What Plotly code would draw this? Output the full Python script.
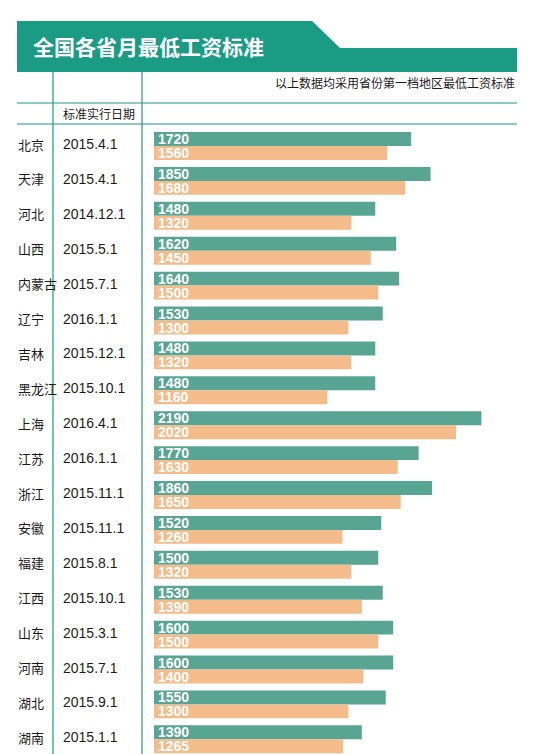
import plotly.graph_objects as go

provinces = ["北京", "天津", "河北", "山西", "内蒙古", "辽宁", "吉林", "黑龙江", "上海",
             "江苏", "浙江", "安徽", "福建", "江西", "山东", "河南", "湖北", "湖南"]
dates = ["2015.4.1", "2015.4.1", "2014.12.1", "2015.5.1", "2015.7.1", "2016.1.1", "2015.12.1",
         "2015.10.1", "2016.4.1", "2016.1.1", "2015.11.1", "2015.11.1", "2015.8.1", "2015.10.1",
         "2015.3.1", "2015.7.1", "2015.9.1", "2015.1.1"]
current_wage = [1720, 1850, 1480, 1620, 1640, 1530, 1480, 1480, 2190,
                1770, 1860, 1520, 1500, 1530, 1600, 1600, 1550, 1390]
previous_wage = [1560, 1680, 1320, 1450, 1500, 1300, 1320, 1160, 2020,
                 1630, 1650, 1260, 1320, 1390, 1500, 1400, 1300, 1265]

title_text = "全国各省月最低工资标准"
subtitle_text = "以上数据均采用省份第一档地区最低工资标准"
date_header = "标准实行日期"

W, H = 545, 754
HEADER_GREEN = "#1A9B83"
LINE_GREEN = "#1E9A80"
BAR_GREEN = "#58A594"
BAR_ORANGE = "#F4BC8A"
DARK = "#1E1A1B"
NUM_FONT = "Liberation Sans, Arial, Noto Sans CJK SC"
CJK_FONT = "Noto Sans CJK SC, Liberation Sans"


def px(x):
    return x / W


def py(y):
    return 1 - y / H


fig = go.Figure()
common = dict(orientation="h", hoverinfo="skip")
fig.add_trace(go.Bar(y=provinces, x=current_wage, marker=dict(color=BAR_GREEN, line_width=0), **common))
fig.add_trace(go.Bar(y=provinces, x=previous_wage, marker=dict(color=BAR_ORANGE, line_width=0), **common))

# pixel geometry
x0_px, x1_px = 154, 517
scale = 0.1495
pitch = 34.9
first_center = 146
top_px, bot_px = 124, 754
y_top_val = (top_px - first_center) / pitch
y_bot_val = (bot_px - first_center) / pitch

fig.update_layout(
    width=W, height=H, margin=dict(l=0, r=0, t=0, b=0),
    paper_bgcolor="white", plot_bgcolor="white",
    barmode="group", bargap=0.2, bargroupgap=0, showlegend=False,
    xaxis=dict(domain=[px(x0_px), px(x1_px)], range=[0, (x1_px - x0_px) / scale],
               visible=False, fixedrange=True),
    yaxis=dict(domain=[0, py(top_px)], range=[y_bot_val, y_top_val],
               visible=False, fixedrange=True, type="category"),
)

shapes = []
# header band with notch
path = (f"M {px(17)},{py(21)} L {px(312)},{py(21)} L {px(340)},{py(48)} "
        f"L {px(517)},{py(48)} L {px(517)},{py(72)} L {px(17)},{py(72)} Z")
shapes.append(dict(type="path", path=path, xref="paper", yref="paper",
                   fillcolor=HEADER_GREEN, line=dict(width=0), layer="below"))
for yy in (103, 124):
    shapes.append(dict(type="line", xref="paper", yref="paper", x0=px(17), x1=px(517),
                       y0=py(yy), y1=py(yy), line=dict(color=LINE_GREEN, width=1.2)))
for xx in (53, 142):
    shapes.append(dict(type="line", xref="paper", yref="paper", x0=px(xx), x1=px(xx),
                       y0=py(72), y1=0, line=dict(color=LINE_GREEN, width=1.2)))
fig.update_layout(shapes=shapes)

ann = []
ann.append(dict(text=f"<b>{title_text}</b>", x=px(31), y=py(46), xref="paper", yref="paper",
                xanchor="left", yanchor="middle", showarrow=False,
                font=dict(family=CJK_FONT, size=21, color="white")))
ann.append(dict(text=subtitle_text, x=px(517), y=py(83), xref="paper", yref="paper",
                xanchor="right", yanchor="middle", showarrow=False,
                font=dict(family=CJK_FONT, size=12, color=DARK)))
ann.append(dict(text=date_header, x=px(61), y=py(114), xref="paper", yref="paper",
                xanchor="left", yanchor="middle", showarrow=False,
                font=dict(family=CJK_FONT, size=12, color=DARK)))
for p, d, cw, pw in zip(provinces, dates, current_wage, previous_wage):
    ann.append(dict(text=p, x=px(16), y=p, xref="paper", yref="y", xanchor="left",
                    yanchor="middle", showarrow=False, yshift=2,
                    font=dict(family=CJK_FONT, size=13, color=DARK)))
    ann.append(dict(text=d, x=px(61), y=p, xref="paper", yref="y", xanchor="left",
                    yanchor="middle", showarrow=False, yshift=2,
                    font=dict(family=NUM_FONT, size=14, color=DARK)))
    ann.append(dict(text=f"<b>{cw}</b>", x=0, y=p, xref="x", yref="y", xanchor="left",
                    yanchor="middle", showarrow=False, xshift=3, yshift=7,
                    borderpad=0, font=dict(family=NUM_FONT, size=14, color="white")))
    ann.append(dict(text=f"<b>{pw}</b>", x=0, y=p, xref="x", yref="y", xanchor="left",
                    yanchor="middle", showarrow=False, xshift=3, yshift=-7,
                    borderpad=0, font=dict(family=NUM_FONT, size=14, color="white")))
fig.update_layout(annotations=ann)

fig.write_html("out.html")
